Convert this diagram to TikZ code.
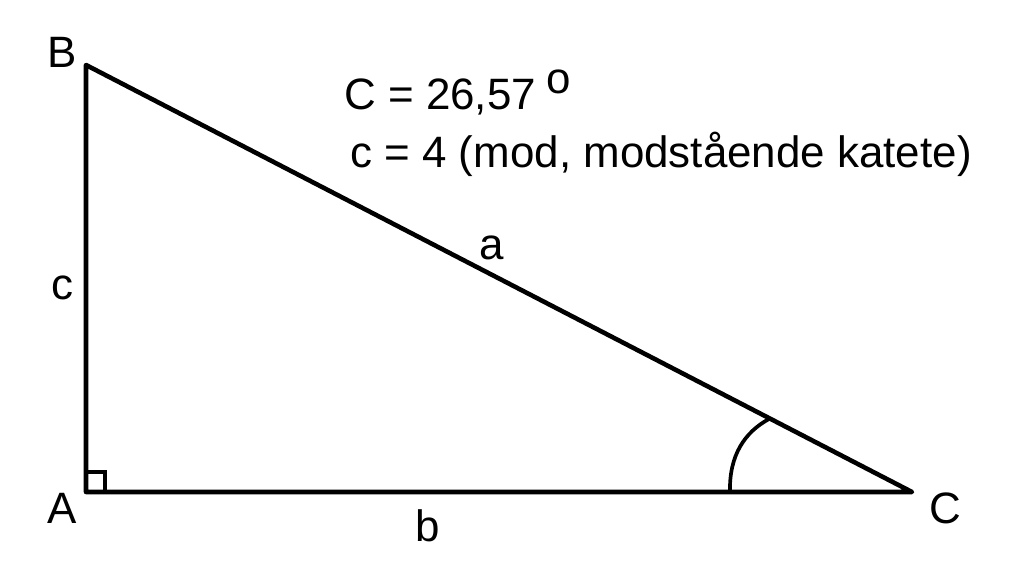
\documentclass[tikz,border=0pt]{standalone}
\usepackage{fontspec}
\setmainfont{Liberation Sans}
\usetikzlibrary{positioning}

\begin{document}
\begin{tikzpicture}[x=0.02cm, y=-0.02cm,
            side/.style={line width=2.6pt, line cap=round, line join=round},
            lbl/.style={inner sep=0pt, font=\fontsize{25}{30}\selectfont},
            info/.style={inner sep=0pt, anchor=base west, font=\fontsize{25}{30}\selectfont}
        ]
            \useasboundingbox (0,0) rectangle (1030,567);

% Corners
            \coordinate (A) at (86,492);
            \coordinate (B) at (86,65);
            \coordinate (C) at (912,492);

% Triangle
            \draw[side] (A) -- (B) -- (C) -- cycle;

% Right angle at A
            \draw[line width=2.1pt] (86,472) -- (105,472) -- (105,492);

% Angle at C
            \coordinate (arcstart) at (730,492);
            \coordinate (arcend) at (769,419);
            \draw[line width=2.1pt] (arcstart) .. controls (729,455) and (745,432) .. (arcend);

% Vertex and side labels
            \node[lbl] (labB) at (62,52) {B};
            \node[lbl] (labA) at (62,508) {A};
            \node[lbl] (labC) at (945,508) {C};
            \node[lbl] (labc) at (62,288) {c};
            \node[lbl] (laba) at (492,248) {a};
            \node[lbl] (labb) at (428,526) {b};

% Given values
            \node[info] (angC) at (344,110) {C = 26,57};
            \node[info] (deg) at (546,94) {o};
            \node[info] (sidec) at (350,168) {c = 4 (mod, modstående katete)};

        \end{tikzpicture}
\end{document}
